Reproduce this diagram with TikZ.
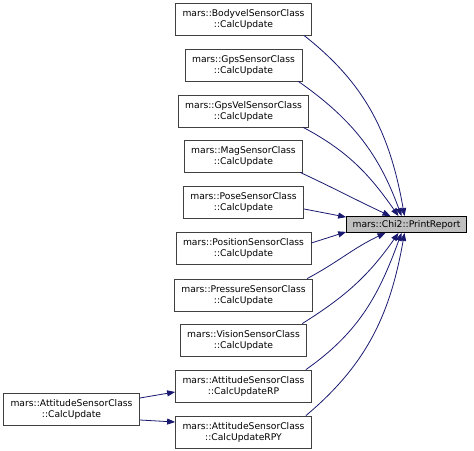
\documentclass[tikz,border=0pt]{standalone}
\usepackage{fontspec}
\setmainfont{DejaVu Sans}
\usetikzlibrary{arrows.meta}
\definecolor{edgec}{HTML}{191970}
\definecolor{boxc}{HTML}{404040}
\definecolor{curfill}{HTML}{BFBFBF}
\begin{document}
\begin{tikzpicture}[x=1pt,y=-1pt,
  fn/.style={draw=boxc, fill=white, line width=0.8pt, align=center,
    font=\fontsize{9.2}{11}\selectfont, inner xsep=7pt, inner ysep=2pt, minimum height=32pt},
  cur/.style={draw=black, fill=curfill, line width=0.8pt,
    font=\fontsize{9.2}{11}\selectfont, inner xsep=6pt, inner ysep=1pt, minimum height=16pt},
  edge/.style={draw=edgec, line width=0.8pt, -{Triangle[length=8pt,width=6pt]}}]
\useasboundingbox (0,0) rectangle (474,450);
\node[cur] (chi) at (406.5,224.5) {mars::Chi2::PrintReport};
\node[fn] (b1) at (243.5,19) {mars::BodyvelSensorClass\\::CalcUpdate};
\node[fn] (b2) at (243.5,65) {mars::GpsSensorClass\\::CalcUpdate};
\node[fn] (b3) at (243.5,111) {mars::GpsVelSensorClass\\::CalcUpdate};
\node[fn] (b4) at (243.5,156) {mars::MagSensorClass\\::CalcUpdate};
\node[fn] (b5) at (243.5,202) {mars::PoseSensorClass\\::CalcUpdate};
\node[fn] (b6) at (243.5,248) {mars::PositionSensorClass\\::CalcUpdate};
\node[fn] (b7) at (243.5,295) {mars::PressureSensorClass\\::CalcUpdate};
\node[fn] (b8) at (243.5,340) {mars::VisionSensorClass\\::CalcUpdate};
\node[fn] (b9) at (243.5,386) {mars::AttitudeSensorClass\\::CalcUpdateRP};
\node[fn] (b10) at (243.5,432) {mars::AttitudeSensorClass\\::CalcUpdateRPY};
\node[fn] (att) at (71.5,409) {mars::AttitudeSensorClass\\::CalcUpdate};

\draw[edge] ([shift={(-8,0)}]b1.south east) to[out=-38,in=100] ([shift={(-2,0)}]chi.north);
\draw[edge] ([shift={(-4,0)}]b2.south east) to[out=-35,in=110] ([shift={(-5,0)}]chi.north);
\draw[edge] ([shift={(-6,0)}]b3.south east) to[out=-28,in=125] ([shift={(-8,0)}]chi.north);
\draw[edge] ([shift={(-3,0)}]b4.south east) to[out=-25,in=155] ([shift={(-16,0)}]chi.north);
\draw[edge] ([shift={(0,7)}]b5.east) -- ([shift={(0,1)}]chi.north west);
\draw[edge] ([shift={(0,-5)}]b6.east) -- ([shift={(0,-1)}]chi.south west);
\draw[edge] ([shift={(-6,0)}]b7.north east) to[out=28,in=-155] ([shift={(-21,0)}]chi.south);
\draw[edge] ([shift={(-5,0)}]b8.north east) to[out=32,in=-125] ([shift={(-8,0)}]chi.south);
\draw[edge] ([shift={(-6,0)}]b9.north east) to[out=35,in=-110] ([shift={(-5,0)}]chi.south);
\draw[edge] ([shift={(-6,0)}]b10.north east) to[out=40,in=-100] ([shift={(-2,0)}]chi.south);
\draw[edge] ([shift={(0,-11)}]att.east) -- ([shift={(0,6)}]b9.west);
\draw[edge] ([shift={(0,11)}]att.east) -- ([shift={(0,-10)}]b10.west);
\end{tikzpicture}
\end{document}
